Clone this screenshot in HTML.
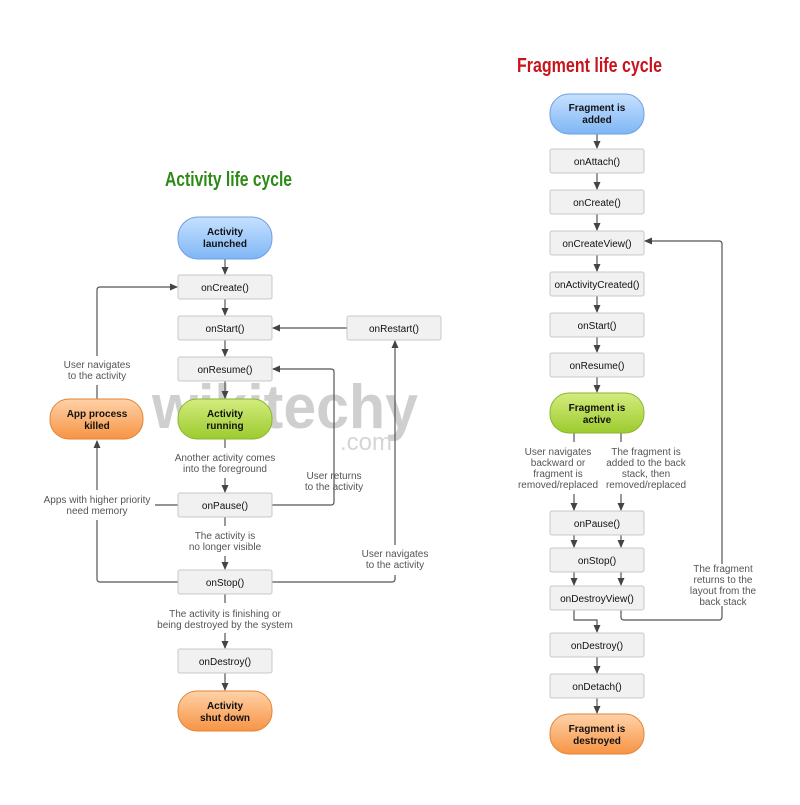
<!DOCTYPE html>
<html><head><meta charset="utf-8"><style>
html,body{margin:0;padding:0;background:#fff;}
svg text{font-family:"Liberation Sans",Arial,sans-serif;}
.t{font-size:10px;fill:#111;text-anchor:middle;}
.b{font-size:10px;fill:#111;text-anchor:middle;font-weight:bold;}
.l{font-size:10px;fill:#555;text-anchor:middle;}
.box{fill:#f1f1f1;stroke:#c8c8c8;stroke-width:1;}
.ln{stroke:#555;stroke-width:1.2;fill:none;}
</style></head><body>
<svg width="800" height="800" viewBox="0 0 800 800" xmlns="http://www.w3.org/2000/svg">
<defs>
<marker id="a" markerWidth="8" markerHeight="8" refX="7" refY="4" orient="auto" markerUnits="userSpaceOnUse"><path d="M0,0.5 L8,4 L0,7.5 z" fill="#444"/></marker>
<linearGradient id="blue" x1="0" y1="0" x2="0" y2="1"><stop offset="0" stop-color="#c6e1ff"/><stop offset="1" stop-color="#7fb6f5"/></linearGradient>
<linearGradient id="green" x1="0" y1="0" x2="0" y2="1"><stop offset="0" stop-color="#d4ec7e"/><stop offset="1" stop-color="#9ccb2e"/></linearGradient>
<linearGradient id="orange" x1="0" y1="0" x2="0" y2="1"><stop offset="0" stop-color="#ffd2a8"/><stop offset="1" stop-color="#f79444"/></linearGradient>
</defs>

<text x="165" y="186" style="font-size:20px;font-weight:bold;fill:#2d8a16;" textLength="127" lengthAdjust="spacingAndGlyphs">Activity life cycle</text>
<text x="517" y="72" style="font-size:20px;font-weight:bold;fill:#c8141c;" textLength="145" lengthAdjust="spacingAndGlyphs">Fragment life cycle</text>

<!-- watermark -->
<g opacity="0.4">
<text x="152" y="428" style="font-size:62px;font-weight:bold;fill:#888;" textLength="266" lengthAdjust="spacingAndGlyphs">wikitechy</text>
<text x="340" y="450" style="font-size:24px;fill:#999;">.com</text>
</g>

<!-- Activity connectors -->
<g class="ln">
<line x1="225" y1="259" x2="225" y2="274" marker-end="url(#a)"/>
<line x1="225" y1="299" x2="225" y2="315" marker-end="url(#a)"/>
<line x1="225" y1="340" x2="225" y2="356" marker-end="url(#a)"/>
<line x1="225" y1="381" x2="225" y2="398" marker-end="url(#a)"/>
<line x1="225" y1="439" x2="225" y2="448"/>
<line x1="225" y1="478" x2="225" y2="492" marker-end="url(#a)"/>
<line x1="225" y1="517" x2="225" y2="526"/>
<line x1="225" y1="556" x2="225" y2="569" marker-end="url(#a)"/>
<line x1="225" y1="594" x2="225" y2="603"/>
<line x1="225" y1="633" x2="225" y2="648" marker-end="url(#a)"/>
<line x1="225" y1="673" x2="225" y2="690" marker-end="url(#a)"/>
<line x1="347" y1="328" x2="273" y2="328" marker-end="url(#a)"/>
<path d="M97,356 V290 Q97,287 100,287 H177" marker-end="url(#a)"/>
<line x1="97" y1="385" x2="97" y2="399"/>
<path d="M178,582 H100 Q97,582 97,579 V520"/>
<line x1="97" y1="490" x2="97" y2="441" marker-end="url(#a)"/>
<line x1="178" y1="505" x2="155" y2="505"/>
<path d="M272,505 H331 Q334,505 334,502 V372 Q334,369 331,369 H273" marker-end="url(#a)"/>
<path d="M272,582 H392 Q395,582 395,579 V575"/>
<line x1="395" y1="545" x2="395" y2="341" marker-end="url(#a)"/>
</g>

<!-- Activity nodes -->
<rect x="178" y="217" width="94" height="42" rx="20" fill="url(#blue)" stroke="#6f9fe0"/>
<text class="b" x="225" y="235">Activity</text><text class="b" x="225" y="247">launched</text>
<rect class="box" x="178" y="275" width="94" height="24" rx="2"/><text class="t" x="225" y="291">onCreate()</text>
<rect class="box" x="178" y="316" width="94" height="24" rx="2"/><text class="t" x="225" y="332">onStart()</text>
<rect class="box" x="347" y="316" width="94" height="24" rx="2"/><text class="t" x="394" y="332">onRestart()</text>
<rect class="box" x="178" y="357" width="94" height="24" rx="2"/><text class="t" x="225" y="373">onResume()</text>
<rect x="178" y="399" width="94" height="40" rx="19" fill="url(#green)" stroke="#8ab533"/>
<text class="b" x="225" y="417">Activity</text><text class="b" x="225" y="429">running</text>
<rect x="50" y="399" width="93" height="40" rx="19" fill="url(#orange)" stroke="#e0843a"/>
<text class="b" x="97" y="417">App process</text><text class="b" x="97" y="429">killed</text>
<rect class="box" x="178" y="493" width="94" height="24" rx="2"/><text class="t" x="225" y="509">onPause()</text>
<rect class="box" x="178" y="570" width="94" height="24" rx="2"/><text class="t" x="225" y="586">onStop()</text>
<rect class="box" x="178" y="649" width="94" height="24" rx="2"/><text class="t" x="225" y="665">onDestroy()</text>
<rect x="178" y="691" width="94" height="40" rx="19" fill="url(#orange)" stroke="#e0843a"/>
<text class="b" x="225" y="709">Activity</text><text class="b" x="225" y="721">shut down</text>

<text class="l" x="97" y="368">User navigates</text><text class="l" x="97" y="379">to the activity</text>
<text class="l" x="225" y="461">Another activity comes</text><text class="l" x="225" y="472">into the foreground</text>
<text class="l" x="334" y="479">User returns</text><text class="l" x="334" y="490">to the activity</text>
<text class="l" x="97" y="503">Apps with higher priority</text><text class="l" x="97" y="514">need memory</text>
<text class="l" x="225" y="539">The activity is</text><text class="l" x="225" y="550">no longer visible</text>
<text class="l" x="395" y="557">User navigates</text><text class="l" x="395" y="568">to the activity</text>
<text class="l" x="225" y="617">The activity is finishing or</text><text class="l" x="225" y="628">being destroyed by the system</text>

<!-- Fragment connectors -->
<g class="ln">
<line x1="597" y1="134" x2="597" y2="148" marker-end="url(#a)"/>
<line x1="597" y1="173" x2="597" y2="189" marker-end="url(#a)"/>
<line x1="597" y1="214" x2="597" y2="230" marker-end="url(#a)"/>
<line x1="597" y1="255" x2="597" y2="271" marker-end="url(#a)"/>
<line x1="597" y1="296" x2="597" y2="312" marker-end="url(#a)"/>
<line x1="597" y1="337" x2="597" y2="352" marker-end="url(#a)"/>
<line x1="597" y1="377" x2="597" y2="392" marker-end="url(#a)"/>
<line x1="574" y1="433" x2="574" y2="442"/><line x1="621" y1="433" x2="621" y2="442"/>
<line x1="574" y1="494" x2="574" y2="510" marker-end="url(#a)"/>
<line x1="621" y1="494" x2="621" y2="510" marker-end="url(#a)"/>
<line x1="574" y1="535" x2="574" y2="547" marker-end="url(#a)"/>
<line x1="621" y1="535" x2="621" y2="547" marker-end="url(#a)"/>
<line x1="574" y1="572" x2="574" y2="585" marker-end="url(#a)"/>
<line x1="621" y1="572" x2="621" y2="585" marker-end="url(#a)"/>
<path d="M574,610 V620 H597 V632" marker-end="url(#a)"/>
<path d="M621,610 V617 Q621,620 624,620 H719 Q722,620 722,617 V606"/>
<path d="M722,564 V244 Q722,241 719,241 H645" marker-end="url(#a)"/>
<line x1="597" y1="657" x2="597" y2="673" marker-end="url(#a)"/>
<line x1="597" y1="698" x2="597" y2="713" marker-end="url(#a)"/>
</g>

<rect x="550" y="94" width="94" height="40" rx="19" fill="url(#blue)" stroke="#6f9fe0"/>
<text class="b" x="597" y="111">Fragment is</text><text class="b" x="597" y="123">added</text>
<rect class="box" x="550" y="149" width="94" height="24" rx="2"/><text class="t" x="597" y="165">onAttach()</text>
<rect class="box" x="550" y="190" width="94" height="24" rx="2"/><text class="t" x="597" y="206">onCreate()</text>
<rect class="box" x="550" y="231" width="94" height="24" rx="2"/><text class="t" x="597" y="247">onCreateView()</text>
<rect class="box" x="550" y="272" width="94" height="24" rx="2"/><text class="t" x="597" y="288">onActivityCreated()</text>
<rect class="box" x="550" y="313" width="94" height="24" rx="2"/><text class="t" x="597" y="329">onStart()</text>
<rect class="box" x="550" y="353" width="94" height="24" rx="2"/><text class="t" x="597" y="369">onResume()</text>
<rect x="550" y="393" width="94" height="40" rx="19" fill="url(#green)" stroke="#8ab533"/>
<text class="b" x="597" y="411">Fragment is</text><text class="b" x="597" y="423">active</text>
<rect class="box" x="550" y="511" width="94" height="24" rx="2"/><text class="t" x="597" y="527">onPause()</text>
<rect class="box" x="550" y="548" width="94" height="24" rx="2"/><text class="t" x="597" y="564">onStop()</text>
<rect class="box" x="550" y="586" width="94" height="24" rx="2"/><text class="t" x="597" y="602">onDestroyView()</text>
<rect class="box" x="550" y="633" width="94" height="24" rx="2"/><text class="t" x="597" y="649">onDestroy()</text>
<rect class="box" x="550" y="674" width="94" height="24" rx="2"/><text class="t" x="597" y="690">onDetach()</text>
<rect x="550" y="714" width="94" height="40" rx="19" fill="url(#orange)" stroke="#e0843a"/>
<text class="b" x="597" y="732">Fragment is</text><text class="b" x="597" y="744">destroyed</text>

<text class="l" x="558" y="455">User navigates</text><text class="l" x="558" y="466">backward or</text><text class="l" x="558" y="477">fragment is</text><text class="l" x="558" y="488">removed/replaced</text>
<text class="l" x="646" y="455">The fragment is</text><text class="l" x="646" y="466">added to the back</text><text class="l" x="646" y="477">stack, then</text><text class="l" x="646" y="488">removed/replaced</text>
<text class="l" x="723" y="572">The fragment</text><text class="l" x="723" y="583">returns to the</text><text class="l" x="723" y="594">layout from the</text><text class="l" x="723" y="605">back stack</text>
</svg>
</body></html>
